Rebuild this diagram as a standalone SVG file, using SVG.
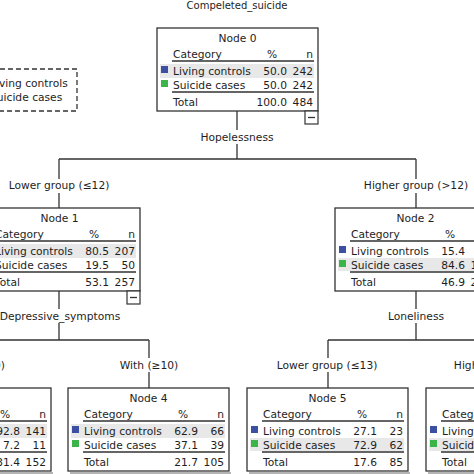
<svg xmlns="http://www.w3.org/2000/svg" width="474" height="474" viewBox="0 0 474 474">
<style>
text{font-family:"DejaVu Sans","Liberation Sans",sans-serif;font-size:10.7px;fill:#1e1e1e}
.t{font-size:10px}
.m{text-anchor:middle}
.e{text-anchor:end}
.box{fill:#fff;stroke:#333;stroke-width:1.3}
.rule{stroke:#333;stroke-width:1.6;fill:none}
.hl{fill:#e8e8e8}
.lc{fill:#3b4fa3}
.sc{fill:#3bb54a}
.con{stroke:#333;stroke-width:1.3;fill:none}
.bg{fill:#fff}
.sh{stroke:#b4b4b4;stroke-width:2;fill:none}
.minus{fill:#fff;stroke:#333;stroke-width:1.2}
.leg{fill:none;stroke:#333;stroke-width:1.3;stroke-dasharray:5 3}
</style>
<defs>
<g id="frame">
<rect class="box" x="0" y="0" width="161" height="83"/>
<text x="16" y="30">Category</text>
<text class="m" x="115" y="30">%</text>
<text class="e" x="156" y="30">n</text>
<path class="rule" d="M15,33H157M15,64H157"/>
</g>
</defs>
<text class="t m" x="237" y="9">Compeleted_suicide</text>
<g id="legend">
<rect class="leg" x="-40" y="69" width="117" height="42"/>
<text x="-10" y="87">Living controls</text>
<text x="-10" y="101">Suicide cases</text>
</g>
<g id="connectors">
<path class="con" d="M237,111V159M59,159H416M59,159V208M416,159V208M59,291V340M-30,340H149M-30,340V388M149,340V388M416,291V340M328,340H506M328,340V388M506,340V388"/>
<rect class="bg" x="199" y="130" width="77" height="14"/>
<text class="m" x="237" y="141">Hopelessness</text>
<rect class="bg" x="8" y="179" width="102" height="14"/>
<text class="m" x="59" y="189">Lower group (≤12)</text>
<rect class="bg" x="364" y="179" width="104" height="14"/>
<text class="m" x="416" y="189">Higher group (&gt;12)</text>
<rect class="bg" x="0" y="309" width="122" height="14"/>
<text class="m" x="60" y="320">Depressive_symptoms</text>
<rect class="bg" x="382" y="309" width="68" height="14"/>
<text class="m" x="416" y="320">Loneliness</text>
<rect class="bg" x="-80" y="358" width="86" height="14"/>
<text class="e" x="5" y="369">Without (&lt;10)</text>
<rect class="bg" x="118" y="358" width="62" height="14"/>
<text class="m" x="149" y="369">With (≥10)</text>
<rect class="bg" x="275" y="358" width="104" height="14"/>
<text class="m" x="327" y="369">Lower group (≤13)</text>
<rect class="bg" x="454" y="358" width="106" height="14"/>
<text class="m" x="506" y="369">Higher group (&gt;13)</text>
</g>
<g id="node0" transform="translate(157,28)">
<use href="#frame"/>
<rect class="hl" x="3" y="36" width="154" height="14"/>
<text class="m" x="80.5" y="14">Node 0</text>
<rect class="lc" x="4" y="38" width="7" height="7"/>
<rect class="sc" x="4" y="52" width="7" height="7"/>
<text x="16" y="47">Living controls</text><text class="e" x="130" y="47">50.0</text><text class="e" x="156" y="47">242</text>
<text x="16" y="61">Suicide cases</text><text class="e" x="130" y="61">50.0</text><text class="e" x="156" y="61">242</text>
<text x="16" y="78">Total</text><text class="e" x="130" y="78">100.0</text><text class="e" x="156" y="78">484</text>
<rect class="minus" x="148" y="83" width="13" height="13"/><path class="con" d="M151,89.5H158"/>
</g>
<g id="node1" transform="translate(-21,208)">
<use href="#frame"/>
<rect class="hl" x="3" y="36" width="154" height="14"/>
<text class="m" x="80.5" y="14">Node 1</text>
<rect class="lc" x="4" y="38" width="7" height="7"/>
<rect class="sc" x="4" y="52" width="7" height="7"/>
<text x="16" y="47">Living controls</text><text class="e" x="130" y="47">80.5</text><text class="e" x="156" y="47">207</text>
<text x="16" y="61">Suicide cases</text><text class="e" x="130" y="61">19.5</text><text class="e" x="156" y="61">50</text>
<text x="16" y="78">Total</text><text class="e" x="130" y="78">53.1</text><text class="e" x="156" y="78">257</text>
<rect class="minus" x="148" y="83" width="13" height="13"/><path class="con" d="M151,89.5H158"/>
</g>
<g id="node2" transform="translate(335,208)">
<use href="#frame"/>
<rect class="hl" x="3" y="50" width="154" height="13"/>
<text class="m" x="80.5" y="14">Node 2</text>
<rect class="lc" x="4" y="38" width="7" height="7"/>
<rect class="sc" x="4" y="52" width="7" height="7"/>
<text x="16" y="47">Living controls</text><text class="e" x="130" y="47">15.4</text><text class="e" x="156" y="47">35</text>
<text x="16" y="61">Suicide cases</text><text class="e" x="130" y="61">84.6</text><text class="e" x="156" y="61">192</text>
<text x="16" y="78">Total</text><text class="e" x="130" y="78">46.9</text><text class="e" x="156" y="78">227</text>
<rect class="minus" x="148" y="83" width="13" height="13"/><path class="con" d="M151,89.5H158"/>
</g>
<g id="node3" transform="translate(-110,388)">
<use href="#frame"/>
<path class="sh" d="M2,85H163"/>
<rect class="hl" x="3" y="36" width="154" height="14"/>
<text class="m" x="80.5" y="14">Node 3</text>
<rect class="lc" x="4" y="38" width="7" height="7"/>
<rect class="sc" x="4" y="52" width="7" height="7"/>
<text x="16" y="47">Living controls</text><text class="e" x="130" y="47">92.8</text><text class="e" x="156" y="47">141</text>
<text x="16" y="61">Suicide cases</text><text class="e" x="130" y="61">7.2</text><text class="e" x="156" y="61">11</text>
<text x="16" y="78">Total</text><text class="e" x="130" y="78">31.4</text><text class="e" x="156" y="78">152</text>
</g>
<g id="node4" transform="translate(68,388)">
<use href="#frame"/>
<path class="sh" d="M2,85H163"/>
<rect class="hl" x="3" y="36" width="154" height="14"/>
<text class="m" x="80.5" y="14">Node 4</text>
<rect class="lc" x="4" y="38" width="7" height="7"/>
<rect class="sc" x="4" y="52" width="7" height="7"/>
<text x="16" y="47">Living controls</text><text class="e" x="130" y="47">62.9</text><text class="e" x="156" y="47">66</text>
<text x="16" y="61">Suicide cases</text><text class="e" x="130" y="61">37.1</text><text class="e" x="156" y="61">39</text>
<text x="16" y="78">Total</text><text class="e" x="130" y="78">21.7</text><text class="e" x="156" y="78">105</text>
</g>
<g id="node5" transform="translate(247,388)">
<use href="#frame"/>
<path class="sh" d="M2,85H163"/>
<rect class="hl" x="3" y="50" width="154" height="13"/>
<text class="m" x="80.5" y="14">Node 5</text>
<rect class="lc" x="4" y="38" width="7" height="7"/>
<rect class="sc" x="4" y="52" width="7" height="7"/>
<text x="16" y="47">Living controls</text><text class="e" x="130" y="47">27.1</text><text class="e" x="156" y="47">23</text>
<text x="16" y="61">Suicide cases</text><text class="e" x="130" y="61">72.9</text><text class="e" x="156" y="61">62</text>
<text x="16" y="78">Total</text><text class="e" x="130" y="78">17.6</text><text class="e" x="156" y="78">85</text>
</g>
<g id="node6" transform="translate(426,388)">
<use href="#frame"/>
<path class="sh" d="M2,85H163"/>
<rect class="hl" x="3" y="50" width="154" height="13"/>
<text class="m" x="80.5" y="14">Node 6</text>
<rect class="lc" x="4" y="38" width="7" height="7"/>
<rect class="sc" x="4" y="52" width="7" height="7"/>
<text x="16" y="47">Living controls</text><text class="e" x="130" y="47">8.5</text><text class="e" x="156" y="47">12</text>
<text x="16" y="61">Suicide cases</text><text class="e" x="130" y="61">91.5</text><text class="e" x="156" y="61">130</text>
<text x="16" y="78">Total</text><text class="e" x="130" y="78">29.3</text><text class="e" x="156" y="78">142</text>
</g>
</svg>
